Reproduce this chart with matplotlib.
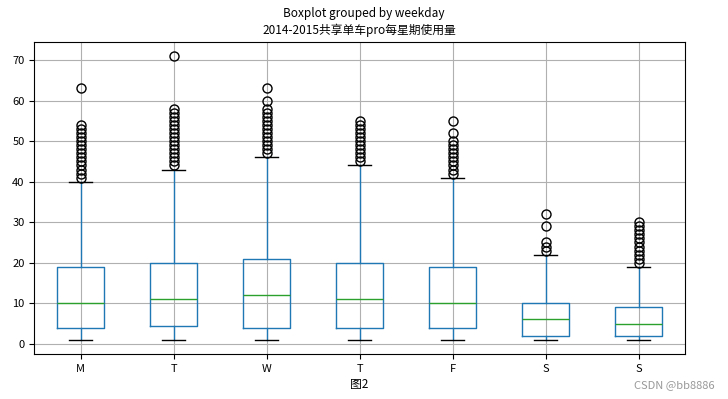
import matplotlib
matplotlib.use("Agg")
import matplotlib.pyplot as plt

plt.rcParams['font.family'] = ['Noto Sans CJK SC', 'DejaVu Sans']
plt.rcParams['axes.unicode_minus'] = False

# weekday labels (Mon..Sun)
days = ["M", "T", "W", "T", "F", "S", "S"]

# box statistics
q1 = [4, 4.4, 4, 4, 4, 2, 2]
med = [10, 11, 12, 11, 10, 6, 5]
q3 = [19, 20, 21, 20, 19, 10, 9]
whislo = [1, 1, 1, 1, 1, 1, 1]
whishi = [40, 43, 46, 44, 41, 22, 19]
fliers = [
    list(range(41, 55)) + [63],
    list(range(44, 59)) + [71],
    list(range(47, 59)) + [60, 63],
    list(range(45, 56)),
    list(range(42, 51)) + [52, 55],
    [23, 24, 25, 29, 32],
    list(range(20, 31)),
]

stats = []
for i in range(len(days)):
    stats.append(dict(label=days[i], q1=q1[i], med=med[i], q3=q3[i],
                      whislo=whislo[i], whishi=whishi[i], fliers=fliers[i]))

fig = plt.figure(figsize=(7.28, 3.99), dpi=100)
ax = fig.add_axes([0.047, 0.113, 0.894, 0.782])

ax.bxp(stats,
       boxprops=dict(color="#1f77b4"),
       whiskerprops=dict(color="#1f77b4"),
       medianprops=dict(color="#2ca02c"),
       capprops=dict(color="black"),
       flierprops=dict(marker="o", markersize=6.5, markerfacecolor="none",
                       markeredgecolor="black"))

ax.grid(True)
ax.tick_params(labelsize=8)
ax.set_yticks(range(0, 80, 10))
ax.set_title("2014-2015共享单车pro每星期使用量", fontsize=8.5, pad=6)
ax.set_xlabel("图2", fontsize=8.5, labelpad=3)
fig.suptitle("Boxplot grouped by weekday", fontsize=8.5, y=0.967, va="center")

fig.text(0.982, 0.035, "CSDN @bb8886", ha="right", va="center", fontsize=8, color="#999999")

fig.savefig("out.png", dpi=100)
